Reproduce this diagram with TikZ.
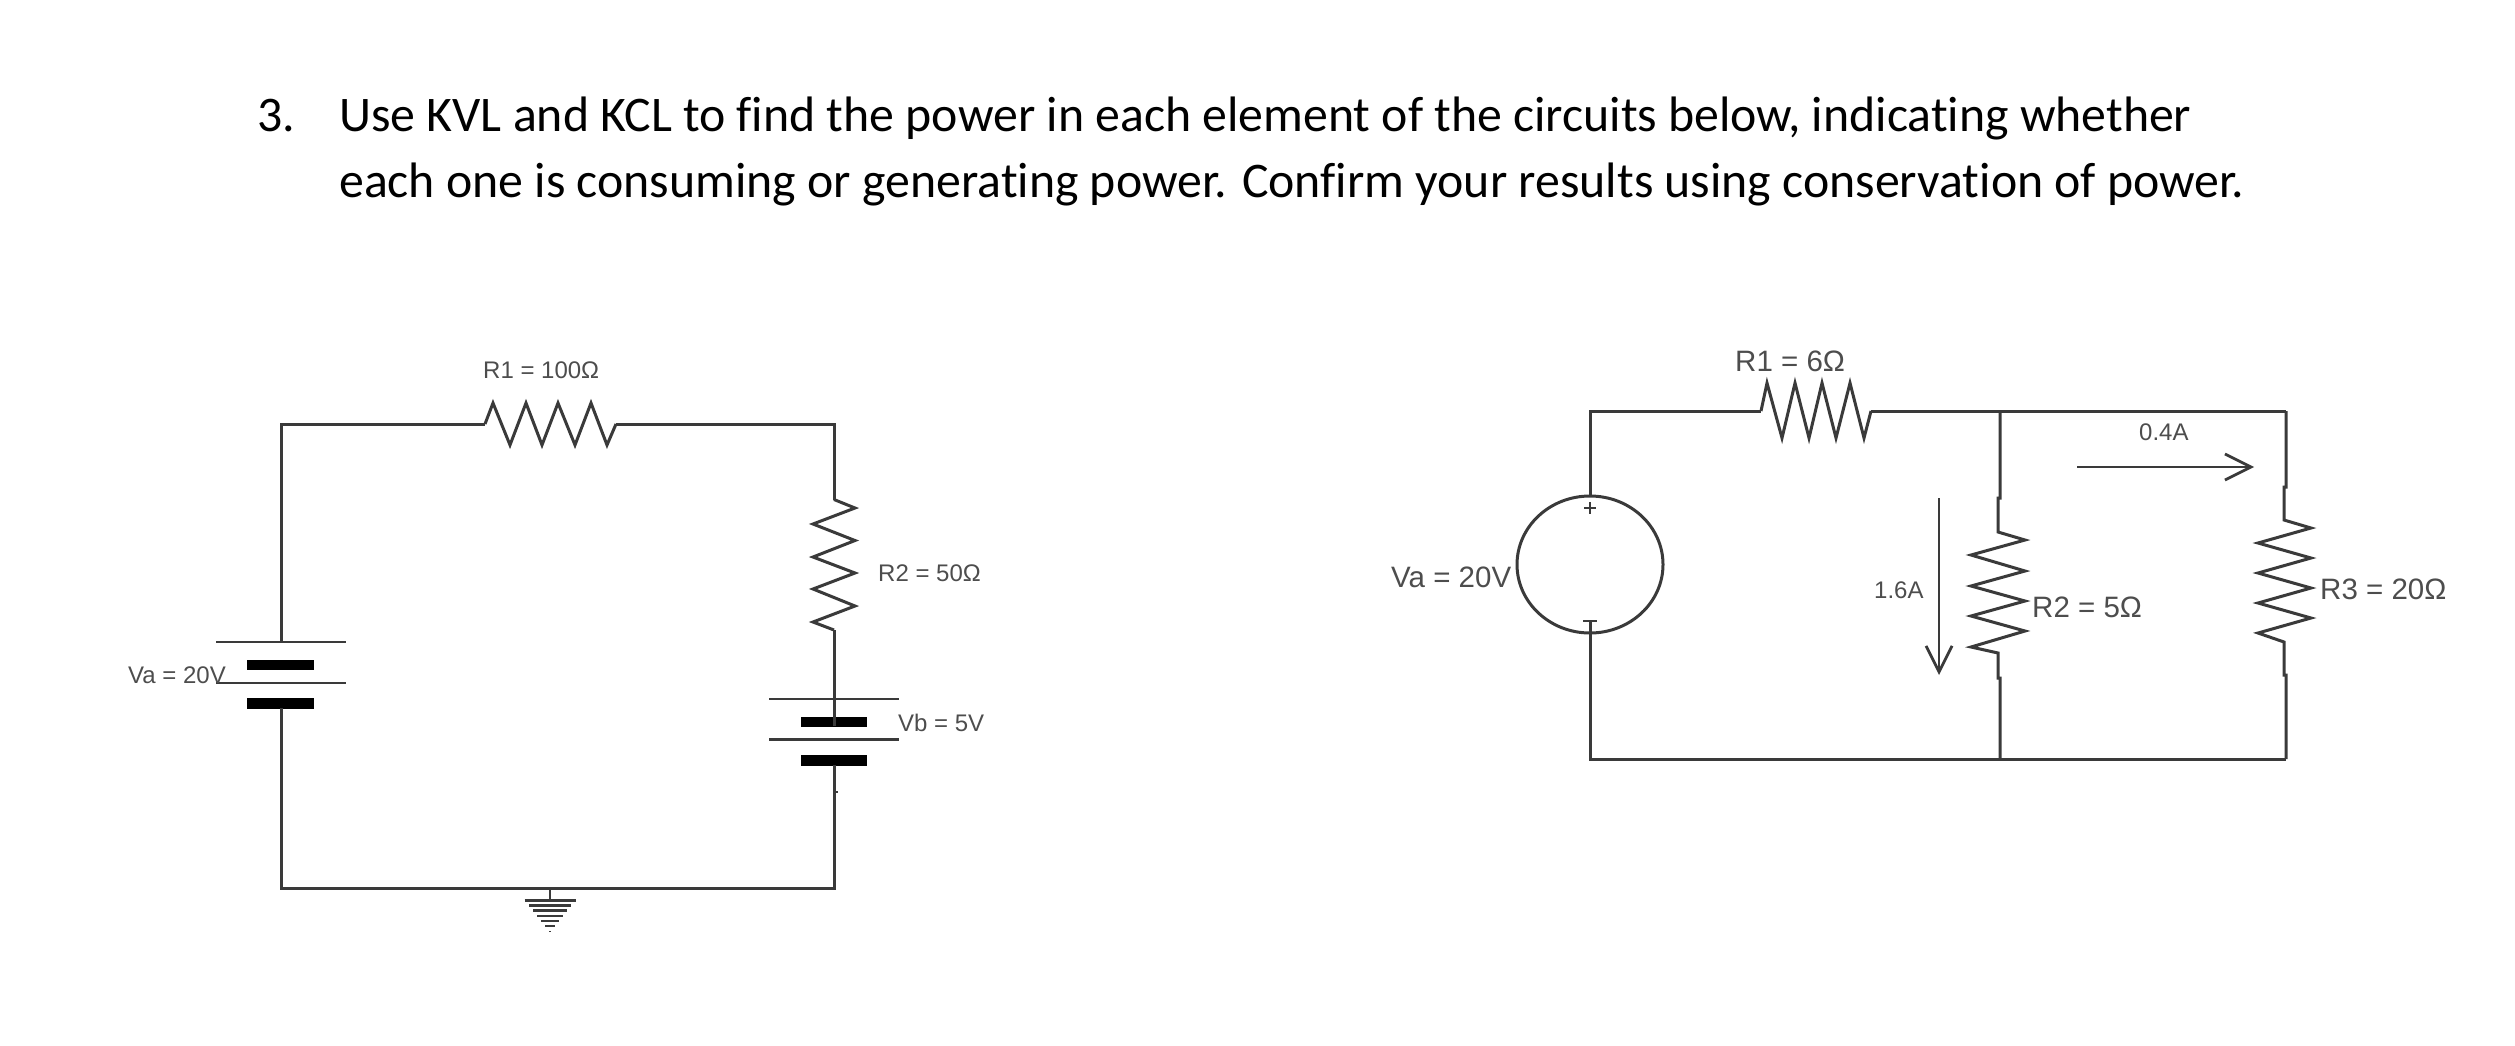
\documentclass[tikz,border=0pt]{standalone}
\usepackage{fontspec}
\setmainfont{Liberation Sans}
\newfontfamily\titlefont{Carlito}[Ligatures=NoCommon]
\usetikzlibrary{arrows.meta,shapes.geometric}
\definecolor{wire}{HTML}{3a3a3a}
\definecolor{lab}{HTML}{4d4d4d}
\tikzset{
  wire/.style={draw=wire,line width=3pt,line join=miter},
  thin plate/.style={draw=wire,line width=2.4pt},
  plate/.style={fill=black,draw=none},
  gnd/.style={draw=wire,line width=2.2pt},
  small lab/.style={inner sep=0pt,anchor=west,text=lab,font=\fontsize{24}{24}\selectfont},
  big lab/.style={inner sep=0pt,anchor=west,text=lab,font=\fontsize{29.5}{30}\selectfont},
  body text/.style={inner sep=0pt,anchor=base west,text=black,font=\titlefont\fontsize{49.8}{50}\selectfont},
  current/.style={draw=wire,line width=2.8pt,-{Straight Barb[length=26pt,width=26pt,line width=2.8pt]}},
}
\begin{document}
\begin{tikzpicture}[x=1pt,y=-1pt]
\useasboundingbox (0,0) rectangle (2515,1045);
% question text
\node[body text] (num) at (257,131) {3.};
\node[body text] (l1) at (339,131) {Use KVL and KCL to find the power in each element of the circuits below, indicating whether};
\node[body text] (l2) at (339,197) {each one is consuming or generating power. Confirm your results using conservation of power.};
% ---------- left circuit
\coordinate (tl) at (281,424);
\coordinate (tr) at (834,424);
\coordinate (bl) at (281,888);
\coordinate (br) at (834,888);
\coordinate (gt) at (550,888);
\coordinate (gb) at (550,900);
\coordinate (ar) at (485,424);
\coordinate (br1) at (616,424);
\coordinate (r2t) at (834,499.5);
\coordinate (r2b) at (834,630);
\coordinate (vat) at (281,642);
\coordinate (vab) at (281,708);
\coordinate (vbt) at (834,726);
\coordinate (vbb) at (834,765);
% battery a
\draw[thin plate] (216,642) -- (346,642);
\draw[thin plate] (216,683) -- (346,683);
\fill[plate] (247,659.5) rectangle (314,670);
\fill[plate] (247,698) rectangle (314,708.5);
% battery b
\draw[thin plate] (769,699) -- (899,699);
\draw[thin plate] (769,739.5) -- (899,739.5);
\fill[plate] (801,717) rectangle (867,727);
\fill[plate] (801,755) rectangle (867,765.5);
% wires
\draw[wire] (vat) -- (tl) -- (ar);
\draw[wire] (ar) -- (493,403) -- (510,445) -- (526,403) -- (542,445) -- (558,403) -- (575,445) -- (591,403) -- (607,445) -- (br1);
\draw[wire] (br1) -- (tr) -- (r2t);
\draw[wire] (r2t) -- (855,508) -- (813,524) -- (855,540.5) -- (813,557) -- (855,573) -- (813,589) -- (855,606) -- (813,622) -- (r2b);
\draw[wire] (r2b) -- (vbt);
\draw[wire] (vbb) -- (br) -- (bl) -- (vab);
\draw[wire,line width=1.5pt] (834,792) -- (838,792);
% ground
\draw[gnd] (gt) -- (gb);
\draw[gnd] (524.5,900.5) -- (575.5,900.5);
\draw[gnd] (529,905.5) -- (571,905.5);
\draw[gnd] (533,910.5) -- (567,910.5);
\draw[gnd] (537,916) -- (563,916);
\draw[gnd] (541,921) -- (559,921);
\draw[gnd] (545,926) -- (555,926);
\draw[gnd,line width=1pt] (549,931) -- (551,931);
% labels
\node[small lab] (lr1) at (483,370) {R1 = 100Ω};
\node[small lab] (lr2) at (878,573) {R2 = 50Ω};
\node[small lab] (lva) at (128,675) {Va = 20V};
\node[small lab] (lvb) at (898,723) {Vb = 5V};
% ---------- right circuit
\node[draw=wire,line width=3pt,ellipse,minimum width=146pt,minimum height=137pt,inner sep=0pt] (src) at (1590,564.5) {};
\coordinate (Tl) at (1590,411);
\coordinate (Bl) at (1590,759);
\coordinate (Ra) at (1761,411);
\coordinate (Rb) at (1871,411);
\coordinate (Jt) at (2000,411);
\coordinate (Jb) at (2000,759);
\coordinate (Tr) at (2286,411);
\coordinate (Br) at (2286,759);
\coordinate (minus) at (1590,621);
\draw[wire] (src.north) -- (Tl) -- (Ra);
\draw[wire] (Ra) -- (1767,383) -- (1782,438) -- (1795,383) -- (1809,438) -- (1822,383) -- (1836,438) -- (1850,383) -- (1864,438) -- (Rb);
\draw[wire] (Rb) -- (Tr);
\draw[wire] (minus) -- (Bl) -- (Br);
\draw[wire] (Jt) -- (2000,498) -- (1998,498) -- (1998,532) -- (2025,540) -- (1971,555) -- (2025,571) -- (1971,586) -- (2025,601) -- (1971,616) -- (2025,631) -- (1971,647) -- (1998,653) -- (1998,678) -- (2000,678) -- (Jb);
\draw[wire] (Tr) -- (2286,487) -- (2284,487) -- (2284,520) -- (2311,528) -- (2258,543) -- (2311,558) -- (2258,573) -- (2311,588) -- (2258,603) -- (2311,618) -- (2258,633) -- (2284,642) -- (2284,675) -- (2286,675) -- (Br);
% source polarity
\draw[wire,line width=2.2pt] (1584,508) -- (1596,508) (1590,502) -- (1590,514);
\draw[wire,line width=2.2pt] (1583,621) -- (1597,621);
% current arrows
\coordinate (i1s) at (1939,498);
\coordinate (i1e) at (1939,675);
\coordinate (i2s) at (2077,467);
\coordinate (i2e) at (2254,467);
\draw[current] (i1s) -- (i1e);
\draw[current] (i2s) -- (i2e);
% labels
\node[big lab] (Lr1) at (1735,361) {R1 = 6Ω};
\node[big lab] (Lva) at (1391,577) {Va = 20V};
\node[small lab] (Li1) at (1874,590) {1.6A};
\node[small lab] (Li2) at (2139,432) {0.4A};
\node[big lab] (Lr2) at (2032,607) {R2 = 5Ω};
\node[big lab] (Lr3) at (2320,589) {R3 = 20Ω};
\end{tikzpicture}
\end{document}
